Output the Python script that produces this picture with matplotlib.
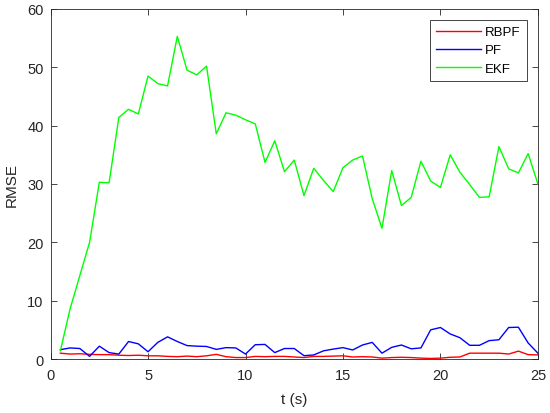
import numpy as np
import matplotlib
matplotlib.use("Agg")
import matplotlib.pyplot as plt

plt.rcParams['font.family'] = ['Liberation Sans', 'DejaVu Sans']

# time steps (s)
t = np.arange(1, 51) * 0.5

rbpf = [1.0, 0.85, 0.9, 0.8, 0.75, 0.75, 0.65, 0.6, 0.65, 0.55,
        0.55, 0.45, 0.4, 0.5, 0.4, 0.55, 0.8, 0.4, 0.25, 0.25,
        0.45, 0.4, 0.45, 0.45, 0.35, 0.25, 0.45, 0.45, 0.5, 0.55,
        0.35, 0.4, 0.35, 0.15, 0.25, 0.3, 0.25, 0.15, 0.1, 0.15,
        0.3, 0.35, 1.0, 1.0, 1.0, 1.0, 0.85, 1.35, 0.75, 0.7]

pf = [1.6, 1.9, 1.8, 0.45, 2.2, 1.1, 0.85, 3.0, 2.6, 1.25,
      2.85, 3.8, 3.0, 2.3, 2.2, 2.15, 1.65, 1.95, 1.9, 0.85,
      2.45, 2.5, 1.1, 1.8, 1.8, 0.57, 0.7, 1.4, 1.7, 1.95,
      1.55, 2.4, 2.85, 1.0, 2.0, 2.4, 1.75, 1.9, 5.0, 5.4,
      4.3, 3.65, 2.35, 2.35, 3.15, 3.3, 5.4, 5.45, 2.75, 1.0]

ekf = [1.4, 8.6, 14.3, 20.0, 30.3, 30.2, 41.4, 42.8, 42.0, 48.5,
       47.2, 46.8, 55.3, 49.5, 48.7, 50.2, 38.6, 42.2, 41.8, 41.0,
       40.3, 33.7, 37.4, 32.1, 34.1, 28.0, 32.7, 30.6, 28.7, 32.8,
       34.1, 34.8, 27.5, 22.4, 32.3, 26.3, 27.7, 33.9, 30.5, 29.4,
       35.0, 32.0, 29.9, 27.7, 27.8, 36.4, 32.6, 31.9, 35.2, 30.0]

fig = plt.figure(figsize=(5.5, 4.14), dpi=100)
ax = fig.add_axes([0.092, 0.1304, 0.886, 0.8456])

ax.plot(t, rbpf, color='#ff0000', lw=1, label='RBPF')
ax.plot(t, pf, color='#0000ff', lw=1, label='PF')
ax.plot(t, ekf, color='#00ff00', lw=1, label='EKF')

ax.set_xlim(0, 25)
ax.set_ylim(0, 60)
ax.set_xticks([0, 5, 10, 15, 20, 25])
ax.set_yticks([0, 10, 20, 30, 40, 50, 60])
ax.tick_params(direction='in', top=True, right=True, labelsize=10.5,
               length=4, width=0.6, colors='#262626')
ax.tick_params(axis='x', pad=6.5)
ax.tick_params(axis='y', pad=5)
for s in ax.spines.values():
    s.set_linewidth(0.6)
    s.set_color('#262626')

ax.set_xlabel('t (s)', fontsize=11, color='#262626', labelpad=7)
ax.set_ylabel('RMSE', fontsize=11, color='#262626', labelpad=6)

leg = ax.legend(loc='upper right', fontsize=9.5, fancybox=False,
                framealpha=1, edgecolor='#262626', borderaxespad=0.85,
                handlelength=3.4, handletextpad=0.3, labelspacing=0.45,
                borderpad=0.45)
leg.get_frame().set_linewidth(0.6)

fig.savefig('out.png', dpi=100)
